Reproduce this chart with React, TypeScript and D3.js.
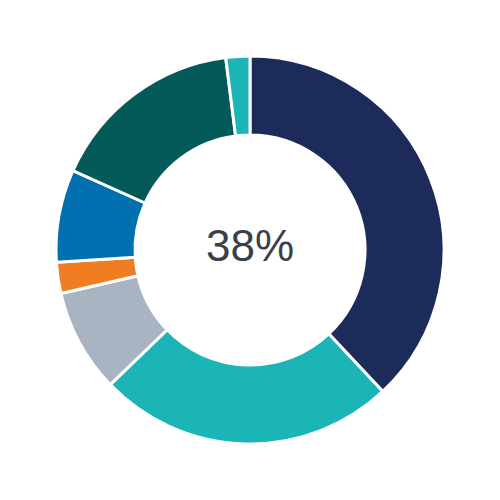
import React, { useEffect, useRef } from 'react';
import * as d3 from 'd3';

const labels = ['A', 'B', 'C', 'D', 'E', 'F', 'G'];
const values = [38, 24.8, 8.6, 2.6, 7.7, 16.3, 2.0];
const colors = ['#1d2b5b', '#1bb5b7', '#a9b4c2', '#f07d22', '#0070b0', '#035a58', '#1bb5b7'];
const centerLabel = '38%';

export default function App() {
  const ref = useRef<SVGSVGElement>(null);

  useEffect(() => {
    document.body.style.margin = '0';
    if (!ref.current) return;
    const svg = d3.select(ref.current);
    svg.selectAll('*').remove();

    const width = 500;
    const height = 500;
    const outer = 194;
    const inner = 115;

    const data = labels.map((l, i) => ({ label: l, value: values[i], color: colors[i] }));
    const pie = d3.pie<any>().value(d => d.value).sort(null);
    const arc = d3.arc<any>().innerRadius(inner).outerRadius(outer);

    const g = svg.append('g').attr('transform', `translate(${width / 2},${height / 2})`);

    g.selectAll('path')
      .data(pie(data))
      .enter()
      .append('path')
      .attr('d', arc)
      .attr('fill', d => d.data.color)
      .attr('stroke', '#ffffff')
      .attr('stroke-width', 3)
      .attr('stroke-linejoin', 'round');

    // center value, sits a little above the middle
    g.append('text')
      .attr('text-anchor', 'middle')
      .attr('y', -4)
      .attr('dy', '0.35em')
      .attr('font-family', '"Liberation Sans", Arial, sans-serif')
      .attr('font-size', 44)
      .attr('fill', '#3a3f4a')
      .text(centerLabel);
  }, []);

  return <svg ref={ref} width={500} height={500} style={{ display: 'block', background: '#fff' }} />;
}
